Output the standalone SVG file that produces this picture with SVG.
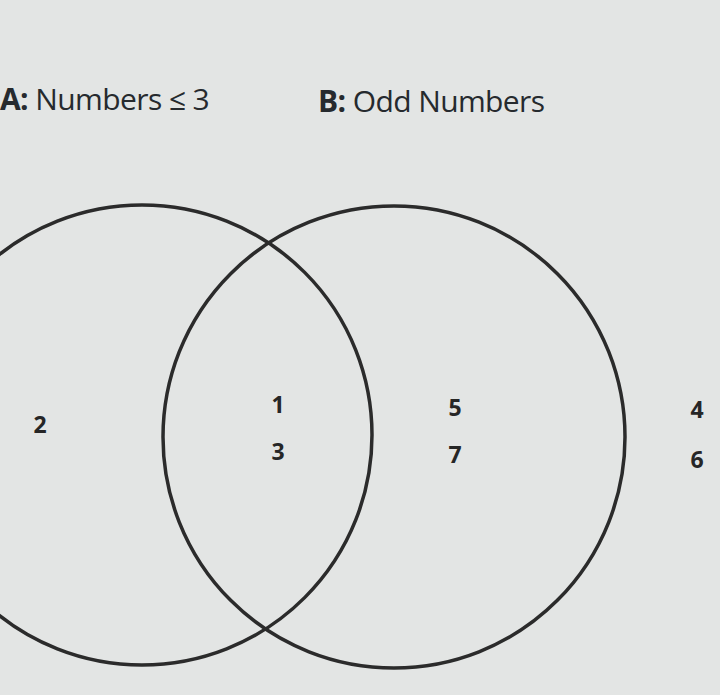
<svg xmlns="http://www.w3.org/2000/svg" width="720" height="695" viewBox="0 0 720 695">
<style>
.lbl{font-family:"Open Sans","Noto Sans",sans-serif;font-size:30px;letter-spacing:-0.6px;fill:#262a2e}
.b{font-weight:bold}
.n{font-family:"Open Sans","Noto Sans",sans-serif;font-size:23px;font-weight:bold;fill:#262626;text-anchor:middle}
.c{fill:none;stroke:#2b2b2b;stroke-width:3.5}
</style>
<rect width="720" height="695" fill="#e3e5e4"/>
<g id="titleA"><text class="lbl" x="0" y="110"><tspan class="b">A:</tspan> Numbers ≤ 3</text></g>
<g id="titleB"><text class="lbl" x="318" y="112"><tspan class="b">B:</tspan> Odd Numbers</text></g>
<g id="circleA"><circle class="c" cx="142" cy="435" r="230"/></g>
<g id="circleB"><circle class="c" cx="394" cy="437" r="231"/></g>
<g id="regionA"><text class="n" x="40" y="433">2</text></g>
<g id="regionAB"><text class="n" x="278" y="413">1</text><text class="n" x="278" y="460">3</text></g>
<g id="regionB"><text class="n" x="455" y="416">5</text><text class="n" x="455" y="463">7</text></g>
<g id="outside"><text class="n" x="697" y="418">4</text><text class="n" x="697" y="468">6</text></g>
<g id="connectors"/>
</svg>
